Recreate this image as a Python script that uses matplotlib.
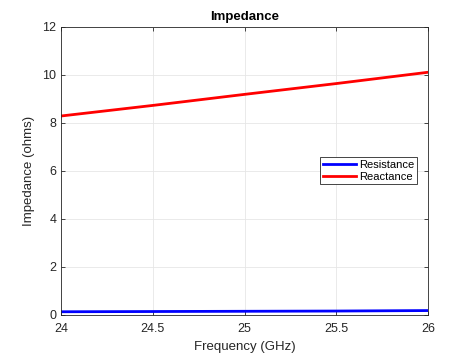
import matplotlib
matplotlib.use("Agg")
import matplotlib.pyplot as plt
import numpy as np

plt.rcParams['font.family'] = ['Liberation Sans', 'DejaVu Sans']

freq = [24.0, 24.5, 25.0, 25.5, 26.0]
resistance = [0.13, 0.14, 0.15, 0.16, 0.18]
reactance = [8.28, 8.72, 9.18, 9.63, 10.10]

fig = plt.figure(figsize=(4.74, 3.55), dpi=100)
ax = fig.add_axes([0.129, 0.113, 0.774, 0.812])

ax.plot(freq, resistance, color=(0, 0, 1), linewidth=2, label="Resistance")
ax.plot(freq, reactance, color=(1, 0, 0), linewidth=2, label="Reactance")

ax.set_xlim(24, 26)
ax.set_ylim(0, 12)
ax.set_xticks([24, 24.5, 25, 25.5, 26])
ax.set_xticklabels(["24", "24.5", "25", "25.5", "26"])
ax.set_yticks([0, 2, 4, 6, 8, 10, 12])
ax.grid(True, color="#e6e6e6", linewidth=0.6)
ax.set_axisbelow(True)
for s in ax.spines.values():
    s.set_color("#262626")
    s.set_linewidth(0.6)
ax.tick_params(direction="in", length=3, width=0.6, color="#262626",
               labelsize=9, labelcolor="#262626", top=True, right=True)
ax.tick_params(axis="x", pad=6)

ax.set_title("Impedance", fontsize=9.5, fontweight="bold", pad=5)
ax.set_xlabel("Frequency (GHz)", fontsize=9.5, color="#262626", labelpad=4)
ax.set_ylabel("Impedance (ohms)", fontsize=9.5, color="#262626", labelpad=5)

leg = ax.legend(loc="center left", bbox_to_anchor=(0.705, 0.5), fontsize=8,
                fancybox=False, framealpha=1, edgecolor="#262626",
                handlelength=3.0, handletextpad=0.3, borderpad=0.25,
                labelspacing=0.15, borderaxespad=0)
leg.get_frame().set_linewidth(0.6)

fig.savefig("out.png", dpi=100)
